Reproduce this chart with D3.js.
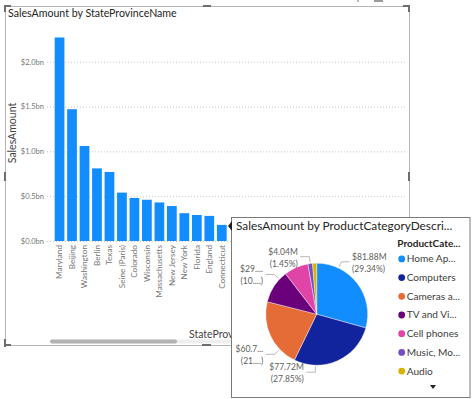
<!DOCTYPE html>
<html>
<head>
<meta charset="utf-8">
<script src="https://cdn.jsdelivr.net/npm/d3@7"></script>
<style>
  body { margin: 0; background: #fff; }
  svg { display: block; font-family: Lato, "Noto Sans", sans-serif; }
</style>
</head>
<body>
<svg width="474" height="399"></svg>
<script>
// bar chart data (billions)
var states = ["Maryland","Beijing","Washington","Berlin","Texas","Seine (Paris)","Colorado","Wisconsin","Massachusetts","New Jersey","New York","Florida","England","Connecticut"];
var sales = [2.27,1.47,1.06,0.81,0.77,0.54,0.48,0.46,0.43,0.39,0.31,0.29,0.28,0.18];
var yTicks = [0,0.5,1,1.5,2];

// pie chart data (millions)
var categories = ["Home Appliances","Computers","Cameras and camcorders","TV and Video","Cell phones","Music, Movies and Audio Books","Audio"];
var legendLabels = ["Home Ap...","Computers","Cameras a...","TV and Vi...","Cell phones","Music, Mo...","Audio"];
var catSales = [81.88,77.72,60.70,29.58,21.49,4.04,3.63];
var catColors = ["#118DFF","#12239E","#E66C37","#6B007B","#E044A7","#744EC2","#D9B300"];

// label layout: where the leader touches the slice (fraction of slice), truncation
var labelAnchor = [0.24,0.755,0.26,0.76,null,0.5,null];
var valueKeep = [null,null,5,4,null,null,null];
var pctKeep = [null,null,3,3,null,null,null];

var svg = d3.select("svg");

// ---------- bar chart visual ----------
var frame = svg.append("g");
frame.append("rect").attr("x",5.5).attr("y",6.5).attr("width",404).attr("height",339)
  .attr("fill","none").attr("stroke","#b4b4b4");
// resize handles
var handles = [[4,5,7,2],[4,5,2,7],[203,5,8,2],[403,5,7,2],[408,5,2,7],[408,172,2,9],[4,172,2,9],[4,339,2,8],[4,344,7,2],[202,344,9,2]];
handles.forEach(function(h){
  frame.append("rect").attr("x",h[0]).attr("y",h[1]).attr("width",h[2]).attr("height",h[3]).attr("fill","#6e6e6e");
});
frame.append("rect").attr("x",374).attr("y",0).attr("width",9).attr("height",2).attr("fill","#9a9a9a");
frame.append("rect").attr("x",357).attr("y",0).attr("width",2).attr("height",2).attr("fill","#b8b8b8");

svg.append("text").attr("x",8).attr("y",16.5)
  .attr("font-size",10.6).attr("fill","#252423")
  .text("SalesAmount by StateProvinceName");

var y = d3.scaleLinear().domain([0,2]).range([241,61.7]);
var x = d3.scaleBand().domain(states).range([53.3,53.3+states.length*12.48])
  .paddingInner(0.22).paddingOuter(0.11);

var yAxis = svg.append("g").attr("transform","translate(47,0)")
  .call(d3.axisLeft(y).tickValues(yTicks).tickSize(-358).tickPadding(3)
    .tickFormat(function(d){ return "$" + d.toFixed(1) + "bn"; }));
yAxis.select(".domain").remove();
yAxis.selectAll("line").attr("stroke","#c8c8c8").attr("stroke-dasharray","1,2");
yAxis.selectAll("text").attr("fill","#777").attr("font-size",7.5).attr("font-family","Lato, sans-serif");

svg.append("text").attr("transform","translate(16,133) rotate(-90)")
  .attr("text-anchor","middle").attr("font-size",10.5).attr("fill","#444")
  .text("SalesAmount");

svg.append("g").selectAll("rect").data(states).enter().append("rect")
  .attr("x",function(d){ return x(d); })
  .attr("y",function(d,i){ return y(sales[i]); })
  .attr("width",x.bandwidth())
  .attr("height",function(d,i){ return y(0) - y(sales[i]); })
  .attr("fill","#118DFF");

var xAxis = svg.append("g").attr("transform","translate(0,241)")
  .call(d3.axisBottom(x).tickSize(0).tickPadding(4));
xAxis.select(".domain").remove();
xAxis.selectAll("text").attr("transform","rotate(-90)")
  .attr("text-anchor","end").attr("x",-4).attr("y",0).attr("dy","0.35em")
  .attr("fill","#777").attr("font-size",8.2).attr("font-family","Lato, sans-serif");

svg.append("text").attr("x",189).attr("y",337.5).attr("font-size",10.5).attr("fill","#444")
  .text("StateProvinceName");

// scrollbar
svg.append("rect").attr("x",50).attr("y",339.5).attr("width",190).attr("height",4).attr("rx",2).attr("fill","#eeeeee");
svg.append("rect").attr("x",50).attr("y",339.5).attr("width",127).attr("height",4).attr("rx",2).attr("fill","#b3b3b3");

// ---------- pie chart popup ----------
var pop = svg.append("g");
pop.append("rect").attr("x",231.5).attr("y",217.5).attr("width",238.5).attr("height",180)
  .attr("fill","#fff").attr("stroke","#7a7a7a");
pop.append("path").attr("d","M228,226L232,221L232,231Z").attr("fill","#222");

pop.append("text").attr("x",236).attr("y",230).attr("font-size",11.85).attr("fill","#252423")
  .text("SalesAmount by ProductCategoryDescri...");

var cx = 316.7, cy = 314.2, r = 51;
var total = d3.sum(catSales);
var pie = d3.pie().sort(null).value(function(d){ return d; });
var arcs = pie(catSales);
var arc = d3.arc().innerRadius(0).outerRadius(r);

var pg = pop.append("g").attr("transform","translate(" + cx + "," + cy + ")");
pg.selectAll("path").data(arcs).enter().append("path")
  .attr("d",arc)
  .attr("fill",function(d,i){ return catColors[i]; })
  .attr("stroke","#fff").attr("stroke-width",0.4);

function trunc(s, n){ return n == null ? s : s.slice(0,n) + "..."; }

arcs.forEach(function(d,i){
  if(labelAnchor[i] == null) return;
  var a = d.startAngle + (d.endAngle - d.startAngle) * labelAnchor[i];
  var p0 = [Math.sin(a)*(r+1.5), -Math.cos(a)*(r+1.5)];
  var p1 = [Math.sin(a)*(r+7), -Math.cos(a)*(r+7)];
  var right = Math.sin(a) > 0.05;
  var p2 = [p1[0] + (right ? 8 : -9), p1[1]];
  pg.append("path").attr("d", d3.line()([p0,p1,p2]))
    .attr("fill","none").attr("stroke","#a6a6a6").attr("stroke-width",0.8);
  var val = "$" + catSales[i].toFixed(2) + "M";
  var pct = (catSales[i]/total*100).toFixed(2) + "%";
  var t = pg.append("text")
    .attr("x", p2[0] + (right ? 2.5 : -2.5)).attr("y", p1[1] - 2)
    .attr("text-anchor", right ? "start" : "end")
    .attr("font-size",8.5).attr("fill","#605E5C");
  t.append("tspan").text(trunc(val, valueKeep[i]));
  t.append("tspan").attr("x", p2[0] + (right ? 2.5 : -2.5)).attr("dy",12)
    .text("(" + trunc(pct, pctKeep[i]) + ")");
});

// legend
pop.append("text").attr("x",397.3).attr("y",246.7).attr("font-size",10).attr("font-weight","bold")
  .attr("fill","#252423").text("ProductCate...");
var lg = pop.append("g").selectAll("g").data(legendLabels).enter().append("g")
  .attr("transform",function(d,i){ return "translate(401.7," + (262.3 + i*18.7) + ")"; });
lg.append("circle").attr("cx",0).attr("cy",-3.4).attr("r",3.4)
  .attr("fill",function(d,i){ return catColors[i]; });
lg.append("text").attr("x",5).attr("font-size",10.1).attr("fill","#404040")
  .text(function(d){ return d; });
pop.append("path").attr("d","M430,385L436,385L433,389Z").attr("fill","#222");
</script>
</body>
</html>
